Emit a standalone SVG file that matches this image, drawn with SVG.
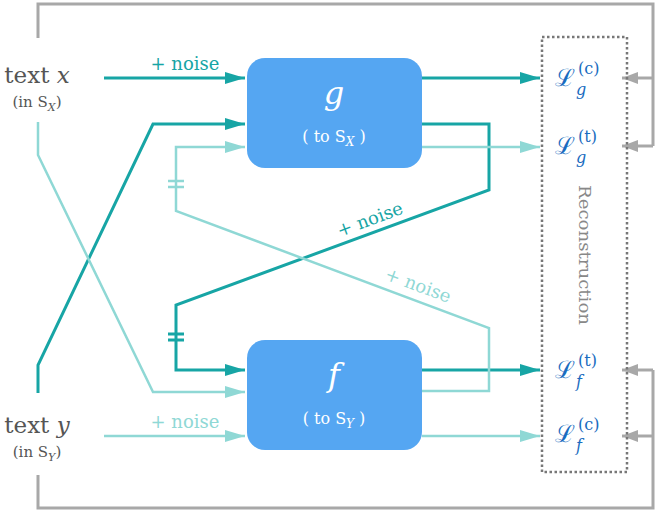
<svg xmlns="http://www.w3.org/2000/svg" width="660" height="516" viewBox="0 0 660 516">
<style>
text{font-family:"DejaVu Serif","Liberation Serif","Times New Roman",serif}
.dk{stroke:#17a5a5;stroke-width:3;fill:none}
.lt{stroke:#8fd8d5;stroke-width:2.5;fill:none}
.gr{stroke:#a8a8a8;stroke-width:3;fill:none}
.box{fill:#55a6f2}
.loss{fill:#1a6cc0;font-size:24px}
.sup{fill:#1a6cc0;font-size:16px}
.sub{fill:#1a6cc0;font-size:16px;font-style:italic}
</style>
<defs>
<marker id="bd" markerWidth="22" markerHeight="14" refX="20" refY="7" orient="auto" markerUnits="userSpaceOnUse"><path d="M0,1L20,7L0,13z" fill="#17a5a5"/></marker>
<marker id="bl" markerWidth="22" markerHeight="14" refX="20" refY="7" orient="auto" markerUnits="userSpaceOnUse"><path d="M0,1L20,7L0,13z" fill="#8fd8d5"/></marker>
<marker id="bg" markerWidth="18" markerHeight="14" refX="16" refY="7" orient="auto" markerUnits="userSpaceOnUse"><path d="M0,1L16,7L0,13z" fill="#a8a8a8"/></marker>
</defs>
<g id="connectors">
<path class="gr" d="M38,38V4H653V146"/>
<path class="gr" marker-end="url(#bg)" d="M653,78H622"/>
<path class="gr" marker-end="url(#bg)" d="M653,146H622"/>
<path class="gr" d="M38,475V508H653V370"/>
<path class="gr" marker-end="url(#bg)" d="M653,370H622"/>
<path class="gr" marker-end="url(#bg)" d="M653,436H622"/>
<path class="dk" marker-end="url(#bd)" d="M104,78H245"/>
<path class="dk" marker-end="url(#bd)" d="M422,78H540"/>
<path class="dk" marker-end="url(#bd)" d="M38,393V365L153,124H245"/>
<path class="dk" marker-end="url(#bd)" d="M422,124H489V190L176,305V370H245"/>
<path class="dk" d="M168,334H184M168,340H184"/>
<path class="dk" marker-end="url(#bd)" d="M422,370H540"/>
<path class="lt" marker-end="url(#bl)" d="M38,122V155L153,392H245"/>
<path class="lt" marker-end="url(#bl)" d="M422,147H540"/>
<path class="lt" marker-end="url(#bl)" d="M422,391H489V328L176,211V147H245"/>
<path class="lt" d="M168,181H184M168,187H184"/>
<path class="lt" marker-end="url(#bl)" d="M104,436H245"/>
<path class="lt" marker-end="url(#bl)" d="M422,436H540"/>
<text x="185" y="70" font-size="18" fill="#17a5a5" text-anchor="middle">+ noise</text>
<text x="185" y="428" font-size="18" fill="#8fd8d5" text-anchor="middle">+ noise</text>
<text font-size="18" fill="#17a5a5" text-anchor="middle" transform="translate(372,225) rotate(-20.3)">+ noise</text>
<text font-size="18" fill="#8fd8d5" text-anchor="middle" transform="translate(416,291) rotate(20.5)">+ noise</text>
</g>
<g id="in-x"><text x="37" y="83" font-size="23" fill="#555" text-anchor="middle">text <tspan font-style="italic">x</tspan></text>
<text x="37" y="107" font-size="15" fill="#555" text-anchor="middle">(in S<tspan font-style="italic" font-size="11" dy="4">X</tspan><tspan dy="-4">)</tspan></text></g>
<g id="in-y"><text x="37" y="433" font-size="23" fill="#555" text-anchor="middle">text <tspan font-style="italic">y</tspan></text>
<text x="37" y="457" font-size="15" fill="#555" text-anchor="middle">(in S<tspan font-style="italic" font-size="11" dy="4">Y</tspan><tspan dy="-4">)</tspan></text></g>
<g id="g"><rect class="box" x="247" y="58" width="175" height="110" rx="18"/>
<text x="334" y="104" font-size="32" font-style="italic" fill="#fff" text-anchor="middle">g</text>
<text x="334" y="142" font-size="16" fill="#fff" text-anchor="middle">( to S<tspan font-style="italic" font-size="12" dy="4">X</tspan><tspan dy="-4"> )</tspan></text></g>
<g id="f"><rect class="box" x="247" y="340" width="175" height="110" rx="18"/>
<text x="334" y="386" font-size="32" font-style="italic" fill="#fff" text-anchor="middle">f</text>
<text x="334" y="424" font-size="16" fill="#fff" text-anchor="middle">( to S<tspan font-style="italic" font-size="12" dy="4">Y</tspan><tspan dy="-4"> )</tspan></text></g>
<g id="reconstruction"><rect x="542" y="37" width="85" height="435" fill="none" stroke="#777" stroke-width="2.5" stroke-dasharray="2.5,2.5"/>
<text font-size="16" fill="#888" text-anchor="middle" textLength="140" lengthAdjust="spacingAndGlyphs" transform="translate(579,255) rotate(90)">Reconstruction</text>
<text class="loss" x="555" y="86">ℒ</text><text class="sup" x="578" y="74">(c)</text><text class="sub" x="576" y="95">g</text>
<text class="loss" x="555" y="154">ℒ</text><text class="sup" x="578" y="142">(t)</text><text class="sub" x="576" y="163">g</text>
<text class="loss" x="555" y="378">ℒ</text><text class="sup" x="578" y="366">(t)</text><text class="sub" x="576" y="387">f</text>
<text class="loss" x="555" y="442">ℒ</text><text class="sup" x="578" y="430">(c)</text><text class="sub" x="576" y="451">f</text>
</g>
</svg>
